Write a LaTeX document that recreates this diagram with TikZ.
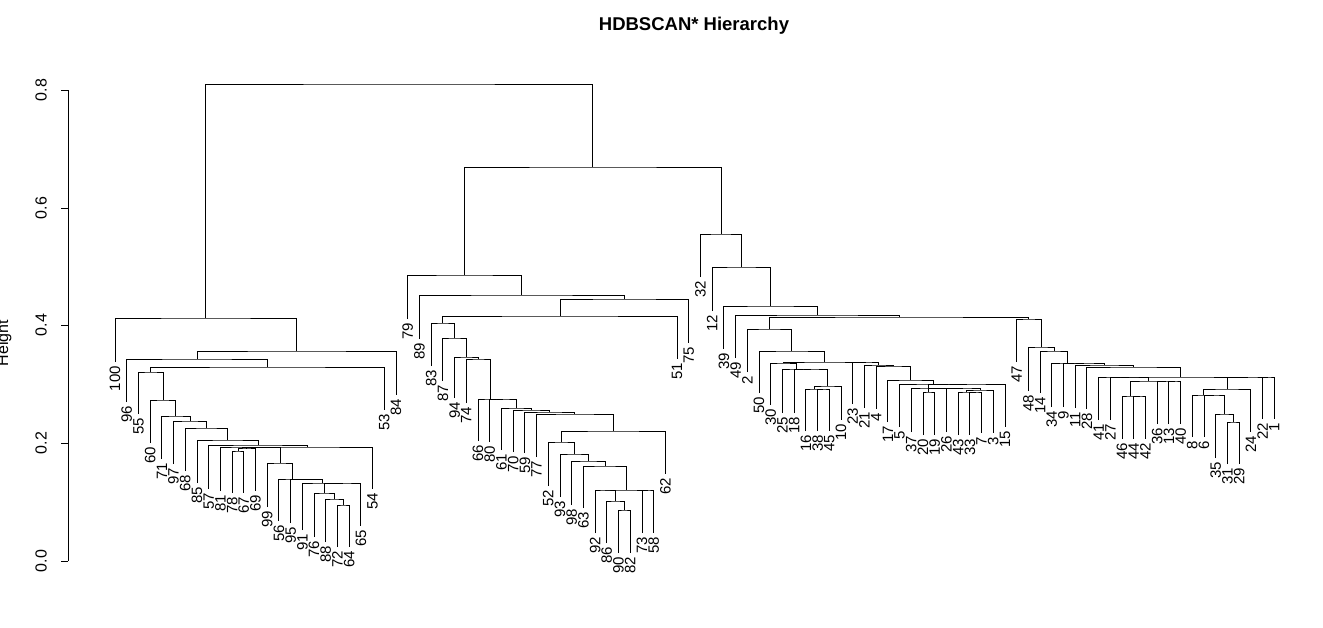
\documentclass[tikz,border=0pt]{standalone}
\usepackage{fontspec}
\setmainfont{Liberation Sans}
\usetikzlibrary{calc}
\tikzset{lab/.style={rotate=90,anchor=east,inner sep=0pt,font=\fontsize{15}{15}\selectfont},
br/.style={line width=0.9pt,black}}
\newcommand\lf[3]{\coordinate (L#1) at ({115+11.71*(#2-1)},#3); \node[lab] (T#1) at ({115+11.71*(#2-1)},{#3+4}) {#1};}
\newcommand\mrg[4]{\path let \p1=(#2),\p2=(#3) in coordinate (#1) at ({0.5*\x1+0.5*\x2},{-#4pt}); \draw[br] (#2) |- (#1) -| (#3);}
\begin{document}
\begin{tikzpicture}[x=1pt,y=-1pt]
\useasboundingbox (0,0) rectangle (1323,627);
\node[font=\bfseries\fontsize{18.5}{18.5}\selectfont] (title) at (694,26) {HDBSCAN* Hierarchy};
\node[rotate=90,font=\fontsize{16}{16}\selectfont] (ylab) at (4,343) {Height};
\draw[br] (68,90) -- (68,561);
\foreach \v/\t in {561/0.0,443/0.2,325/0.4,208/0.6,90/0.8}{
  \draw[br] (68,\v) -- (61,\v);
  \node[rotate=90,font=\fontsize{16}{16}\selectfont] at (41,\v) {\t};}
\lf{100}{1}{362}\lf{96}{2}{402}\lf{55}{3}{414}\lf{60}{4}{443}\lf{71}{5}{459}
\lf{97}{6}{464}\lf{68}{7}{471}\lf{85}{8}{483}\lf{57}{9}{489}\lf{81}{10}{491}
\lf{78}{11}{493}\lf{67}{12}{493}\lf{69}{13}{491}\lf{99}{14}{507}\lf{56}{15}{521}
\lf{95}{16}{523}\lf{91}{17}{530}\lf{76}{18}{537}\lf{88}{19}{542}\lf{72}{20}{547}
\lf{64}{21}{547}\lf{65}{22}{526}\lf{54}{23}{489}\lf{53}{24}{410}\lf{84}{25}{395}
\lf{79}{26}{319}\lf{89}{27}{339}\lf{83}{28}{366}\lf{87}{29}{381}\lf{94}{30}{398}
\lf{74}{31}{403}\lf{66}{32}{441}\lf{80}{33}{442}\lf{61}{34}{450}\lf{70}{35}{452}
\lf{59}{36}{453}\lf{77}{37}{457}\lf{52}{38}{486}\lf{93}{39}{497}\lf{98}{40}{505}
\lf{63}{41}{508}\lf{92}{42}{533}\lf{86}{43}{543}\lf{90}{44}{553}\lf{82}{45}{553}
\lf{73}{46}{533}\lf{58}{47}{533}\lf{62}{48}{474}\lf{51}{49}{359}\lf{75}{50}{343}
\lf{32}{51}{277}\lf{12}{52}{311}\lf{39}{53}{349}\lf{49}{54}{358}\lf{2}{55}{372}
\lf{50}{56}{393}\lf{30}{57}{405}\lf{25}{58}{413}\lf{18}{59}{413}\lf{16}{60}{431}
\lf{38}{61}{431}\lf{45}{62}{431}\lf{10}{63}{420}\lf{23}{64}{404}\lf{21}{65}{408}
\lf{4}{66}{409}\lf{17}{67}{422}\lf{5}{68}{427}\lf{37}{69}{432}\lf{20}{70}{435}
\lf{19}{71}{435}\lf{26}{72}{432}\lf{43}{73}{435}\lf{33}{74}{435}\lf{7}{75}{433}
\lf{3}{76}{433}\lf{15}{77}{427}\lf{47}{78}{362}\lf{48}{79}{391}\lf{14}{80}{393}
\lf{34}{81}{407}\lf{9}{82}{407}\lf{11}{83}{408}\lf{28}{84}{409}\lf{41}{85}{420}
\lf{27}{86}{420}\lf{46}{87}{439}\lf{44}{88}{439}\lf{42}{89}{439}\lf{36}{90}{424}
\lf{13}{91}{424}\lf{40}{92}{424}\lf{8}{93}{437}\lf{6}{94}{437}\lf{35}{95}{458}
\lf{31}{96}{464}\lf{29}{97}{464}\lf{24}{98}{432}\lf{22}{99}{419}\lf{1}{100}{419}
% left cluster
\mrg{g1}{L72}{L64}{505}
\mrg{g2}{L88}{g1}{499}
\mrg{g3}{L76}{g2}{493}
\mrg{g4a}{g3}{L65}{483}
\mrg{g4b}{L91}{g4a}{483}
\mrg{g5}{L95}{g4b}{479.5}
\mrg{g6}{L56}{g5}{479}
\mrg{g7}{L99}{g6}{463}
\mrg{c1}{L78}{L67}{451}
\mrg{c2}{c1}{L69}{448}
\mrg{ly}{c2}{g7}{447.5}
\mrg{lx}{L81}{ly}{447}
\mrg{b11}{lx}{L54}{447}
\mrg{b10}{L57}{b11}{445}
\mrg{b9}{L85}{b10}{440}
\mrg{b8}{L68}{b9}{428}
\mrg{b7}{L97}{b8}{421}
\mrg{b6}{L71}{b7}{416}
\mrg{b5}{L60}{b6}{400}
\mrg{b4}{L55}{b5}{372}
\mrg{b3}{b4}{L53}{367}
\mrg{b2}{L96}{b3}{359}
\mrg{b1}{b2}{L84}{351}
\mrg{a1}{L100}{b1}{318}
% middle cluster
\mrg{m20}{L90}{L82}{510}
\mrg{m19}{L86}{m20}{501}
\mrg{m18b}{L92}{m19}{490}
\mrg{m18c}{L73}{L58}{490}
\mrg{m18}{m18b}{m18c}{490}
\mrg{m17}{L63}{m18}{466}
\mrg{m16}{L98}{m17}{461}
\mrg{m15}{L93}{m16}{454}
\mrg{m14}{L52}{m15}{442}
\mrg{m13}{m14}{L62}{431}
\mrg{m12}{L77}{m13}{414}
\mrg{m11}{L59}{m12}{412}
\mrg{m10}{L70}{m11}{410}
\mrg{m9}{L61}{m10}{408}
\mrg{m8a}{L80}{m9}{399}
\mrg{m8}{L66}{m8a}{399}
\mrg{m7b}{L74}{m8}{359}
\mrg{m7}{L94}{m7b}{357}
\mrg{m6}{L87}{m7}{338}
\mrg{m5}{L83}{m6}{323}
\mrg{m4}{m5}{L51}{316}
\mrg{m3}{m4}{L75}{299}
\mrg{m2}{L89}{m3}{295}
\mrg{m1}{L79}{m2}{275}
% right cluster
\mrg{t1}{L38}{L45}{389}
\mrg{t2}{L16}{t1}{389}
\mrg{s5}{t2}{L10}{386}
\mrg{s3c}{L18}{s5}{369}
\mrg{s3b}{L25}{s3c}{369}
\mrg{s3}{L30}{s3b}{363}
\mrg{s11a}{L33}{L7}{392}
\mrg{s11}{L43}{s11a}{392}
\mrg{s10}{s11}{L3}{390}
\mrg{s9}{L20}{L19}{392}
\mrg{s8a}{L26}{s10}{388}
\mrg{s8b}{s9}{s8a}{388}
\mrg{s8}{L37}{s8b}{388}
\mrg{s7a}{s8}{L15}{384}
\mrg{s7}{L5}{s7a}{384}
\mrg{s6}{L17}{s7}{380}
\mrg{s4b}{L4}{s6}{366}
\mrg{s4}{L21}{s4b}{365}
\mrg{sa}{L23}{s4}{362}
\mrg{s2}{s3}{sa}{362}
\mrg{s1}{L50}{s2}{351}
\mrg{r6}{L2}{s1}{329}
\mrg{k7}{L31}{L29}{422}
\mrg{k6}{L35}{k7}{414}
\mrg{k5a}{L6}{k6}{395}
\mrg{k5}{L8}{k5a}{395}
\mrg{h2}{k5}{L24}{389}
\mrg{k1}{L44}{L42}{396}
\mrg{k2}{L46}{k1}{396}
\mrg{k3}{L13}{L40}{381}
\mrg{k4}{L36}{k3}{381}
\mrg{h1}{k2}{k4}{381}
\mrg{p1}{L27}{h1}{377}
\mrg{p2}{L41}{p1}{377}
\mrg{p3}{L22}{L1}{377}
\mrg{p4}{h2}{p3}{377}
\mrg{r13}{p2}{p4}{377}
\mrg{r12}{L28}{r13}{367}
\mrg{r11}{L11}{r12}{365}
\mrg{r10a}{L9}{r11}{363}
\mrg{r10}{L34}{r10a}{363}
\mrg{r9}{L14}{r10}{351}
\mrg{r8}{L48}{r9}{347}
\mrg{r7}{L47}{r8}{319}
\mrg{r5}{r6}{r7}{317}
\mrg{r4}{L49}{r5}{315}
\mrg{r3}{L39}{r4}{306}
\mrg{r2}{L12}{r3}{267}
\mrg{r1}{L32}{r2}{234}
\mrg{top2}{m1}{r1}{167}
\mrg{root}{a1}{top2}{84}
\end{tikzpicture}
\end{document}
